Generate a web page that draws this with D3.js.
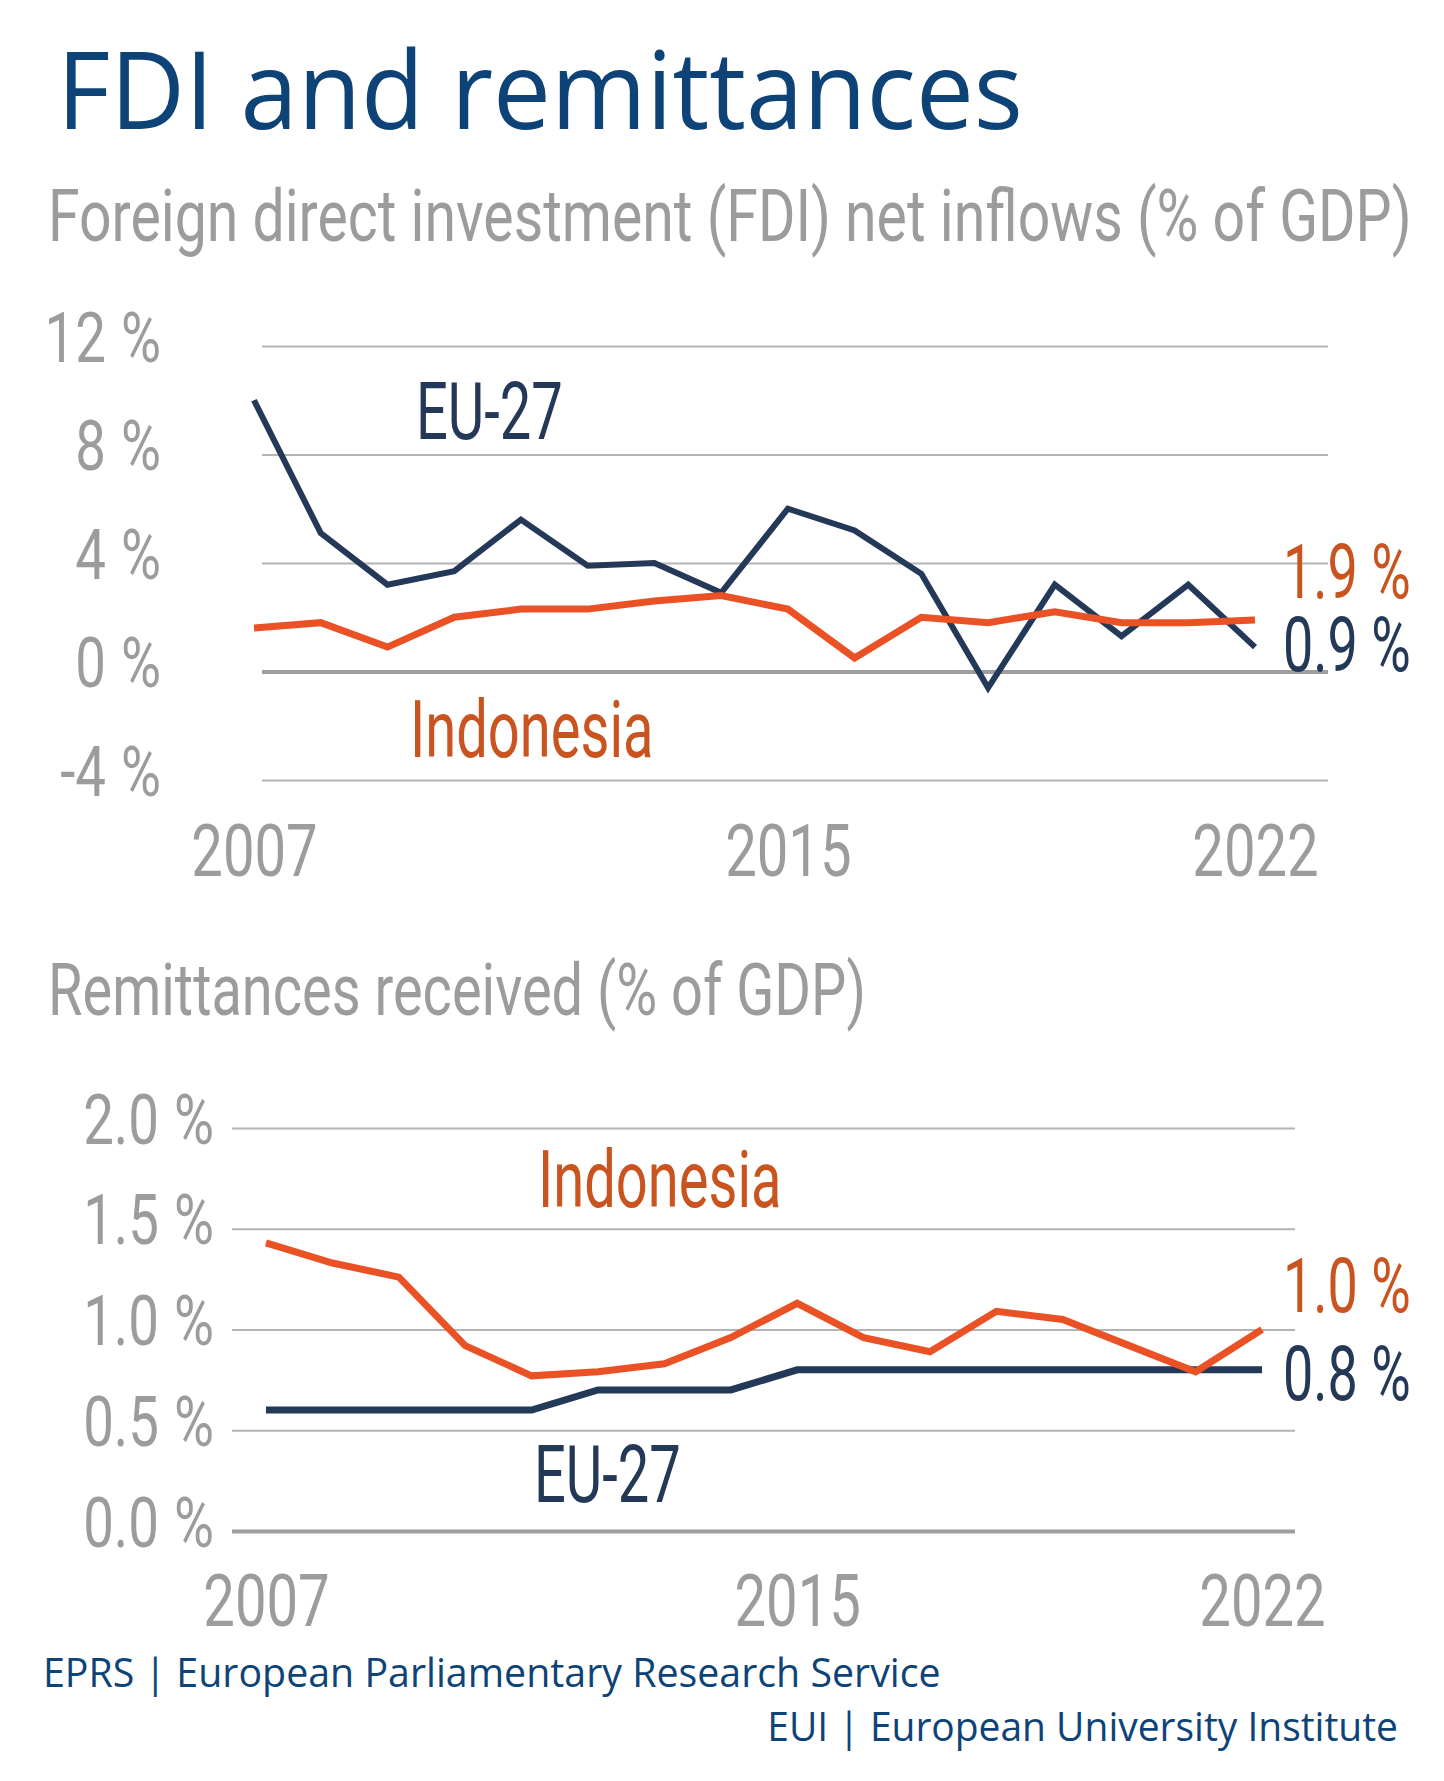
<!DOCTYPE html>
<html>
<head>
<meta charset="utf-8">
<script src="https://cdn.jsdelivr.net/npm/d3@7"></script>
<style>
  body { margin: 0; background: #fff; }
  svg { display: block; }
</style>
</head>
<body>
<svg id="chart"></svg>
<script>
// ---- data ----
const years = [2007, 2008, 2009, 2010, 2011, 2012, 2013, 2014, 2015, 2016, 2017, 2018, 2019, 2020, 2021, 2022];
const fdiEU = [10.0, 5.1, 3.2, 3.7, 5.6, 3.9, 4.0, 2.9, 6.0, 5.2, 3.6, -0.6, 3.2, 1.3, 3.2, 0.9];
const fdiIndonesia = [1.6, 1.8, 0.9, 2.0, 2.3, 2.3, 2.6, 2.8, 2.3, 0.5, 2.0, 1.8, 2.2, 1.8, 1.8, 1.9];
const remEU = [0.6, 0.6, 0.6, 0.6, 0.6, 0.7, 0.7, 0.7, 0.8, 0.8, 0.8, 0.8, 0.8, 0.8, 0.8, 0.8];
const remIndonesia = [1.43, 1.33, 1.26, 0.92, 0.77, 0.79, 0.83, 0.96, 1.13, 0.96, 0.89, 1.09, 1.05, 0.92, 0.79, 1.0];
const fdiTicks = [12, 8, 4, 0, -4];
const remTicks = [2.0, 1.5, 1.0, 0.5, 0.0];
const yearTicks = [2007, 2015, 2022];

const width = 1444;
const height = 1781;

const navy = "#243858";
const orangeLine = "#ea5125";
const orangeText = "#c9541f";
const grey = "#9c9c9c";
const blue = "#0e4377";
const condensedFont = "Roboto, 'Liberation Sans', sans-serif";
const bodyFont = "'Open Sans', 'Noto Sans', sans-serif";

const svg = d3.select("#chart")
  .attr("width", width)
  .attr("height", height)
  .attr("viewBox", `0 0 ${width} ${height}`);

svg.append("rect").attr("width", width).attr("height", height).attr("fill", "#fff");

// squeeze a text horizontally (around its own anchor) to mimic the condensed face of the original
function condense(sel, k) {
  sel.each(function () {
    const t = d3.select(this);
    const x = +t.attr("x") || 0;
    const y = +t.attr("y") || 0;
    t.attr("transform", `translate(${x},${y}) scale(${k},1) translate(${-x},${-y})`);
  });
}

// squeeze a text so it spans a given width
function fitTo(sel, w) {
  sel.each(function () {
    const k = w / this.getComputedTextLength();
    condense(d3.select(this), k);
  });
}

// title
svg.append("text")
  .attr("x", 57).attr("y", 129)
  .attr("font-family", bodyFont)
  .attr("font-size", 108)
  .attr("fill", blue)
  .text("FDI and remittances")
  .call(fitTo, 966);

function subtitle(txt, y, w) {
  svg.append("text")
    .attr("x", 48).attr("y", y)
    .attr("font-family", condensedFont)
    .attr("font-size", 73)
    .attr("fill", grey)
    .text(txt)
    .call(fitTo, w);
}

subtitle("Foreign direct investment (FDI) net inflows (% of GDP)", 241, 1364);
subtitle("Remittances received (% of GDP)", 1015, 818);

// one small-multiple line panel
function renderPanel(cfg) {
  const xScale = d3.scaleLinear()
    .domain([years[0], years[years.length - 1]])
    .range(cfg.xRange);

  const yScale = d3.scaleLinear()
    .domain(cfg.yDomain)
    .range(cfg.yRange);

  const g = svg.append("g");

  // grid lines + y tick labels via axisLeft, drawn from the right edge
  const gridW = cfg.gridX[1] - cfg.gridX[0];
  const yAxis = d3.axisLeft(yScale)
    .tickValues(cfg.ticks)
    .tickFormat(cfg.tickFormat)
    .tickSize(gridW)
    .tickPadding(cfg.gridX[0] - cfg.tickRight);

  const yAxisG = g.append("g")
    .attr("transform", `translate(${cfg.gridX[1]},0)`)
    .call(yAxis);

  yAxisG.select(".domain").remove();
  yAxisG.selectAll(".tick line")
    .attr("stroke", (d) => d === 0 ? "#9e9e9e" : "#b4b4b4")
    .attr("stroke-width", (d) => d === 0 ? 4 : 2.2);
  yAxisG.selectAll(".tick text")
    .attr("dy", null)
    .attr("y", 15)
    .attr("font-family", condensedFont)
    .attr("font-size", 70)
    .attr("word-spacing", 2)
    .attr("fill", grey)
    .call(condense, 0.78);

  // x tick labels
  const xAxis = d3.axisBottom(xScale)
    .tickValues(yearTicks)
    .tickFormat(d3.format("d"))
    .tickSize(0)
    .tickPadding(0);

  const xAxisG = g.append("g")
    .attr("transform", `translate(0,${cfg.xLabelY})`)
    .call(xAxis);

  xAxisG.select(".domain").remove();
  xAxisG.selectAll(".tick text")
    .attr("dy", null)
    .attr("y", 0)
    .attr("font-family", condensedFont)
    .attr("font-size", 73)
    .attr("fill", grey)
    .call(condense, 0.77);

  const line = d3.line()
    .x((d, i) => xScale(years[i]))
    .y((d) => yScale(d));

  cfg.series.forEach((s) => {
    g.append("path")
      .datum(s.values)
      .attr("fill", "none")
      .attr("stroke", s.color)
      .attr("stroke-width", s.width)
      .attr("stroke-linejoin", "miter")
      .attr("d", line);

    // series name
    g.append("text")
      .attr("x", s.nameX).attr("y", s.nameY)
      .attr("font-family", condensedFont)
      .attr("font-size", 79)
      .attr("fill", s.textColor)
      .text(s.name)
      .call(condense, 0.71);

    // end value label
    const last = s.values[s.values.length - 1];
    g.append("text")
      .attr("x", 1283)
      .attr("y", yScale(last) + s.labelDy)
      .attr("font-family", condensedFont)
      .attr("font-size", 76)
      .attr("fill", s.textColor)
      .text(s.label)
      .call(condense, 0.71);
  });
}

renderPanel({
  xRange: [254, 1255],
  yDomain: [-4, 12],
  yRange: [780, 346],
  gridX: [262, 1328],
  tickRight: 161,
  ticks: fdiTicks,
  tickFormat: (d) => `${d} %`,
  xLabelY: 876,
  series: [
    { name: "EU-27", values: fdiEU, color: navy, textColor: navy, width: 6,
      nameX: 416, nameY: 439, label: "0.9 %", labelDy: 24 },
    { name: "Indonesia", values: fdiIndonesia, color: orangeLine, textColor: orangeText, width: 7,
      nameX: 410, nameY: 757, label: "1.9 %", labelDy: -22 }
  ]
});

renderPanel({
  xRange: [266, 1262],
  yDomain: [0, 2],
  yRange: [1531, 1128],
  gridX: [232, 1295],
  tickRight: 214,
  ticks: remTicks,
  tickFormat: (d) => `${d.toFixed(1)} %`,
  xLabelY: 1626,
  series: [
    { name: "EU-27", values: remEU, color: navy, textColor: navy, width: 7,
      nameX: 534, nameY: 1502, label: "0.8 %", labelDy: 30 },
    { name: "Indonesia", values: remIndonesia, color: orangeLine, textColor: orangeText, width: 7,
      nameX: 538, nameY: 1207, label: "1.0 %", labelDy: -17 }
  ]
});

// footer
svg.append("text")
  .attr("x", 43).attr("y", 1687)
  .attr("font-family", bodyFont)
  .attr("font-size", 40)
  .attr("fill", blue)
  .text("EPRS | European Parliamentary Research Service")
  .call(fitTo, 898);

svg.append("text")
  .attr("x", 1398).attr("y", 1741)
  .attr("text-anchor", "end")
  .attr("font-family", bodyFont)
  .attr("font-size", 40)
  .attr("fill", blue)
  .text("EUI | European University Institute")
  .call(fitTo, 631);
</script>
</body>
</html>
